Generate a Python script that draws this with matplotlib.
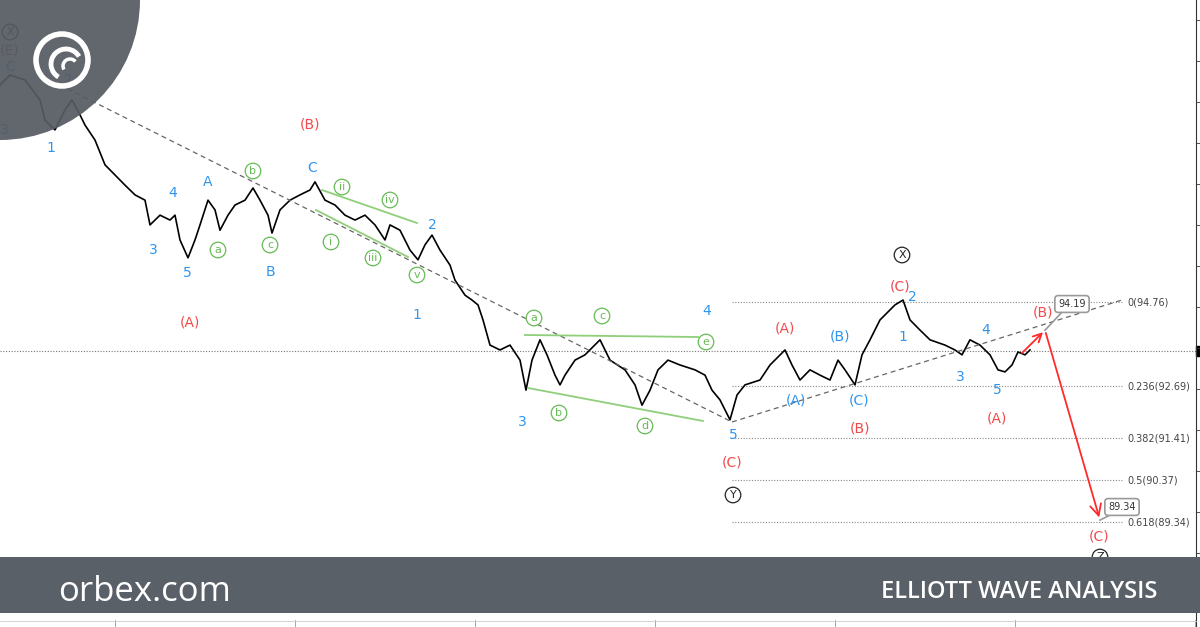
import matplotlib
matplotlib.use("Agg")
import matplotlib.pyplot as plt
from matplotlib.patches import Wedge, Rectangle, Circle, Arc, FancyArrowPatch

# ---- data ----
bar_x = [0,10,25,40,45,55,65,72,80,85,95,105,115,125,135,145,150,160,170,175,180,188,195,200,208,215,220,228,235,245,253,260,268,272,280,290,300,310,315,325,335,345,355,365,375,385,390,400,410,418,425,432,440,450,455,465,472,478,483,490,500,510,520,526,532,540,547,555,560,565,575,585,600,610,625,635,642,650,658,668,680,695,705,712,720,730,737,745,760,770,785,792,800,810,820,830,838,845,855,862,870,880,895,903,910,920,930,945,955,962,970,980,990,998,1005,1012,1018,1025,1030]
close = [100.11,100.35,100.23,99.74,99.24,99.00,99.49,99.74,99.37,99.12,98.75,98.14,97.89,97.64,97.40,97.27,96.66,96.90,96.78,96.90,96.29,95.85,96.29,96.66,97.27,97.03,96.53,96.90,97.15,97.27,97.57,97.27,96.90,96.46,97.03,97.27,97.40,97.52,97.72,97.27,97.15,96.90,96.78,96.90,96.66,96.29,96.66,96.53,96.04,95.80,96.17,96.41,96.04,95.67,95.30,94.93,94.81,94.69,94.32,93.70,93.58,93.70,93.33,92.59,93.33,93.83,93.46,92.96,92.72,92.96,93.33,93.46,93.83,93.33,93.09,92.72,92.22,92.59,93.09,93.33,93.21,93.09,92.96,92.59,92.35,91.86,92.47,92.72,92.84,93.21,93.58,93.21,92.84,93.09,92.96,92.84,93.33,93.09,92.72,93.46,93.83,94.32,94.69,94.81,94.32,94.07,93.83,93.70,93.58,93.46,93.83,93.70,93.46,93.09,93.04,93.21,93.53,93.46,93.58]
fib_ratios = ["0", "0.236", "0.382", "0.5", "0.618", "0.786"]
fib_prices = [94.76, 92.69, 91.41, 90.37, 89.34, 87.86]
last_price = 93.55
target_b = 94.19
target_c = 89.34

TOP, PPU = 102.20, 40.6
def py(p):
    return (TOP - p) * PPU

fig = plt.figure(figsize=(12, 6.27), dpi=100)
ax = fig.add_axes([0, 0, 1, 1])
ax.set_xlim(0, 1200)
ax.set_ylim(TOP - 627 / PPU, TOP)
ax.axis("off")
ax.plot(bar_x, close, color="black", lw=1.2, zorder=3)

ax.axhline(last_price, color="#777777", lw=0.8, ls=(0, (1, 1.5)), zorder=1)

for r, p in zip(fib_ratios, fib_prices):
    ax.plot([732, 1122], [p, p], color="#888888", lw=0.8, ls=(0, (1, 1.5)), zorder=1)
    ax.text(1127, p, f"{r}({p:.2f})", fontsize=7, color="#444444", va="center", zorder=2)

ov = fig.add_axes([0, 0, 1, 1])
ov.set_xlim(0, 1200)
ov.set_ylim(627, 0)
ov.axis("off")
ov.patch.set_alpha(0)

ov.plot([60, 732], [85, 422], color="#666666", lw=0.9, ls=(0, (4, 3)))
ov.plot([732, 1122], [422, 300], color="#666666", lw=0.9, ls=(0, (4, 3)))
G = "#66bb55"
for xs, ys in [([322, 417], [190, 223]), ([316, 408], [210, 257]),
               ([525, 698], [335, 337]), ([528, 703], [388, 421])]:
    ov.plot(xs, ys, color="#8fcf7a", lw=1.3)

R = "#ff2a2a"
xb, yb = 1045, py(target_b) + 5
xc, yc = 1100, py(target_c) - 2
ov.add_patch(FancyArrowPatch((1020, 355), (xb, yb), arrowstyle="->,head_length=6,head_width=3", color=R, lw=1.3))
ov.add_patch(FancyArrowPatch((xb, yb), (xc, yc), arrowstyle="->,head_length=8,head_width=4", color=R, lw=1.3))
for (tx, ty, px_, py_, s) in [(1072, 304, xb, yb, f"{target_b:.2f}"), (1122, 507, xc, yc, f"{target_c:.2f}")]:
    ov.plot([px_, tx - 8], [py_, ty + 6], color="#999999", lw=1.2)
    ov.text(tx, ty, s, fontsize=7, ha="center", va="center", color="#333333",
            bbox=dict(boxstyle="round,pad=0.35", fc="white", ec="#999999", lw=1.2))

BLUE = "#2f95ee"; RED = "#f04a4a"
labels = [
    (51,148,"1",BLUE),(153,250,"3",BLUE),(173,193,"4",BLUE),(187,273,"5",BLUE),(208,182,"A",BLUE),
    (270,272,"B",BLUE),(312,168,"C",BLUE),(310,125,"(B)",RED),(190,323,"(A)",RED),
    (432,225,"2",BLUE),(417,315,"1",BLUE),(522,422,"3",BLUE),(707,311,"4",BLUE),(733,435,"5",BLUE),
    (732,462,"(C)",RED),(785,329,"(A)",RED),(840,337,"(B)",BLUE),(796,401,"(A)",BLUE),
    (859,401,"(C)",BLUE),(860,428,"(B)",RED),(900,287,"(C)",RED),(912,297,"2",BLUE),
    (903,337,"1",BLUE),(986,330,"4",BLUE),(960,377,"3",BLUE),(997,390,"5",BLUE),
    (997,419,"(A)",RED),(1043,312,"(B)",RED),(1099,537,"(C)",RED),
    (10,67,"C",BLUE),(10,50,"(E)","#a05050"),(4,130,"3",BLUE),(68,80,"2",BLUE),
]
for x, y, s, c in labels:
    ov.text(x, y, s, fontsize=10, color=c, ha="center", va="center")

greens = [(218,250,"a"),(253,171,"b"),(270,245,"c"),(342,187,"ii"),(390,200,"iv"),
          (331,242,"i"),(373,258,"iii"),(417,275,"v"),(534,318,"a"),(602,316,"c"),
          (706,342,"e"),(559,413,"b"),(645,426,"d")]
for x, y, s in greens:
    ov.text(x, y, s, fontsize=8, color=G, ha="center", va="center",
            bbox=dict(boxstyle="circle,pad=0.25", fc="white", ec=G, lw=0.9))
for x, y, s in [(902,255,"X"),(733,495,"Y"),(1100,557,"Z"),(10,32,"X")]:
    ov.text(x, y, s, fontsize=8, color="#222222", ha="center", va="center",
            bbox=dict(boxstyle="circle,pad=0.25", fc="none", ec="#222222", lw=0.9))

ov.plot([1196, 1196], [0, 627], color="#333333", lw=0.8)
for t in range(20, 620, 41):
    ov.plot([1196, 1200], [t, t], color="#333333", lw=0.6)
ov.add_patch(Rectangle((1196, 346), 4, 10, color="black"))
for t in range(115, 1196, 180):
    ov.plot([t, t], [620, 627], color="#999999", lw=0.6)
ov.plot([0, 1196], [621, 621], color="#cccccc", lw=0.6)

ov.add_patch(Wedge((0, 0), 140, 0, 90, fc="#555b62", ec="none", alpha=0.93, zorder=5))
ov.add_patch(Circle((62, 60), 26, fc="none", ec="white", lw=4, zorder=6))
ov.add_patch(Arc((66, 64), 30, 30, theta1=120, theta2=330, ec="white", lw=3.5, zorder=6))
ov.add_patch(Arc((70, 66), 14, 14, theta1=150, theta2=320, ec="white", lw=2.5, zorder=6))

ov.add_patch(Rectangle((0, 557), 1200, 56, fc="#5a6068", ec="none", zorder=5))
ov.text(58, 592, "orbex.com", fontsize=25, color="white", va="center", ha="left",
        family="Open Sans", zorder=7)
ov.text(1157, 592, "ELLIOTT WAVE ANALYSIS", fontsize=17, color="white", va="center", ha="right",
        family="Open Sans", fontweight="semibold", zorder=7)

fig.savefig("out.png", dpi=100)
